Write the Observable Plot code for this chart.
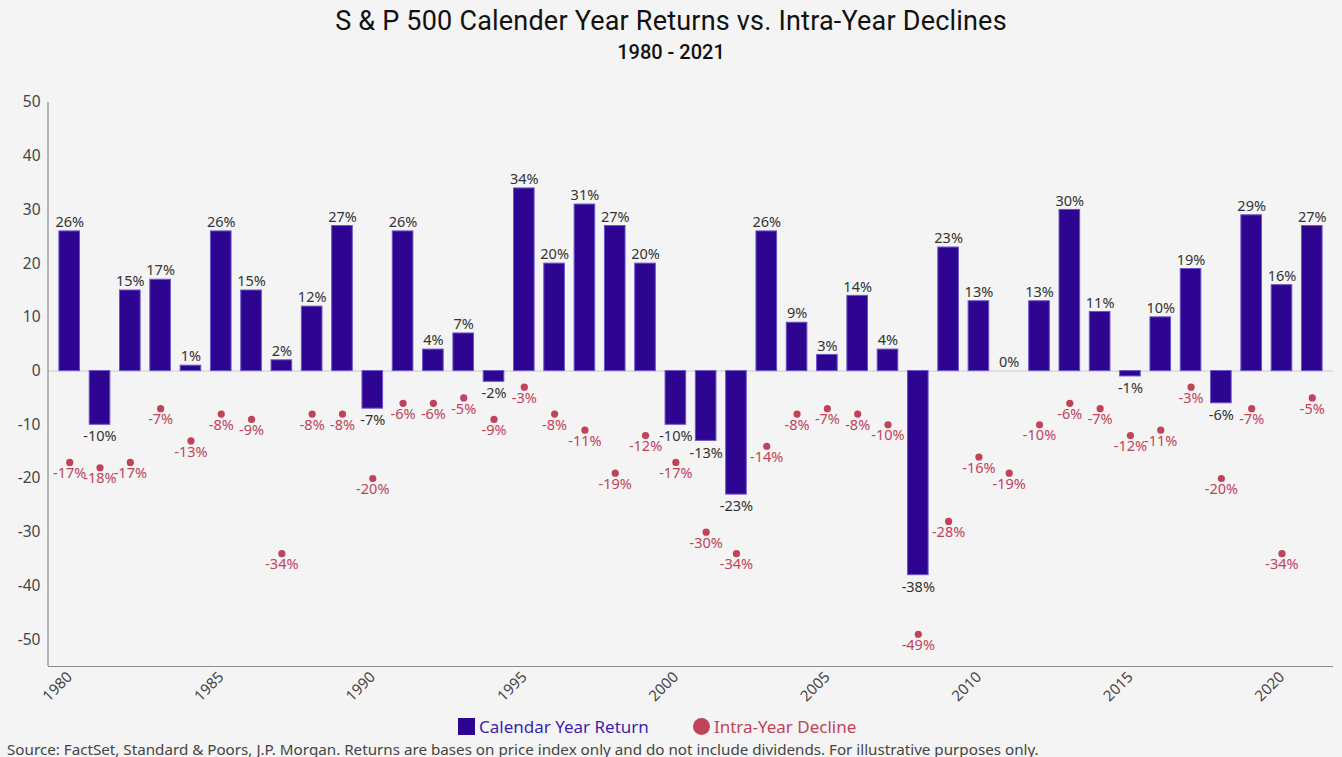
<!DOCTYPE html>
<html>
<head>
<meta charset="utf-8">
<script src="https://cdn.jsdelivr.net/npm/d3@7"></script>
<script src="https://cdn.jsdelivr.net/npm/@observablehq/plot@0.6"></script>
<style>
  html, body { margin: 0; padding: 0; background: #f4f4f4; }
  body { width: 1342px; height: 757px; overflow: hidden; font-family: "Noto Sans", Lato, sans-serif; position: relative; }
  #title { position: absolute; left: 0; width: 1342px; top: 5px; text-align: center; font-family: Roboto, "Noto Sans", sans-serif; font-size: 27px; color: #111; letter-spacing: 0.2px; }
  #subtitle { position: absolute; left: 0; width: 1342px; top: 40px; text-align: center; font-family: Roboto, "Noto Sans", sans-serif; font-size: 20px; font-weight: 500; color: #111; }
  #chart { position: absolute; left: 0; top: 70px; }
  #legend { position: absolute; left: 458px; top: 715px; display: flex; gap: 44px; font-size: 17px; }
  #legend span.item { display: inline-flex; align-items: center; }
  #legend .sw { display: inline-block; width: 17px; height: 17px; margin-right: 4px; }
  #caption { position: absolute; left: 7px; top: 739px; font-size: 15.2px; color: #444; white-space: nowrap; }
</style>
</head>
<body>
<div id="title">S &amp; P 500 Calender Year Returns vs. Intra-Year Declines</div>
<div id="subtitle">1980 - 2021</div>
<div id="chart"></div>
<div id="legend"></div>
<div id="caption">Source: FactSet, Standard &amp; Poors, J.P. Morgan. Returns are bases on price index only and do not include dividends. For illustrative purposes only.</div>
<script>
// Calendar years shown on the x axis
const years = d3.range(1980, 2022);

// S&P 500 calendar-year price return (%)
const calendarReturns = [26, -10, 15, 17, 1, 26, 15, 2, 12, 27,
  -7, 26, 4, 7, -2, 34, 20, 31, 27, 20,
  -10, -13, -23, 26, 9, 3, 14, 4, -38, 23,
  13, 0, 13, 30, 11, -1, 10, 19, -6, 29,
  16, 27];

// Largest intra-year decline (%)
const intraYearDeclines = [-17, -18, -17, -7, -13, -8, -9, -34, -8, -8,
  -20, -6, -6, -5, -9, -3, -8, -11, -19, -12,
  -17, -30, -34, -14, -8, -7, -8, -10, -49, -28,
  -16, -19, -10, -6, -7, -12, -11, -3, -20, -7,
  -34, -5];

// Labelled years on the x axis
const yearTicks = [1980, 1985, 1990, 1995, 2000, 2005, 2010, 2015, 2020];
// Y axis ticks
const yTicks = [-50, -40, -30, -20, -10, 0, 10, 20, 30, 40, 50];

const seriesNames = ["Calendar Year Return", "Intra-Year Decline"];
const barColor = "#2e0591";
const barEdge = "#6a55c8";
const dotColor = "#c0435a";

const rows = years.map((year, i) => ({
  year,
  ret: calendarReturns[i],
  decline: intraYearDeclines[i]
}));

const plot = Plot.plot({
  width: 1342,
  height: 646,
  marginTop: 32,
  marginLeft: 48,
  marginRight: 9,
  marginBottom: 50,
  style: { background: "transparent", fontFamily: "'Noto Sans', Lato, sans-serif", overflow: "visible" },
  x: { type: "band", domain: years, paddingInner: 0.32, paddingOuter: 0.36, round: false, label: null },
  y: { domain: [-55, 50], label: null },
  marks: [
    Plot.ruleY([0], { stroke: "#d4d4d4", strokeWidth: 1.2 }),
    Plot.barY(rows, { x: "year", y: "ret", fill: barColor, stroke: barEdge, strokeWidth: 1 }),
    Plot.text(rows, {
      x: "year", y: "ret",
      text: d => `${d.ret}%`,
      fill: "#333", fontSize: 14.5
    }),
    Plot.dot(rows, { x: "year", y: "decline", r: 3.6, fill: dotColor, stroke: "none" }),
    Plot.text(rows, {
      x: "year", y: "decline",
      text: d => `${d.decline}%`,
      dy: 11, fill: dotColor, fontSize: 14.5
    }),
    Plot.axisY({ ticks: yTicks, tickSize: 0, tickPadding: 8, fontSize: 15.5, color: "#444", label: null, tickFormat: d => String(d) }),
    Plot.axisX({ ticks: yearTicks, tickSize: 0, tickPadding: 8, tickRotate: -45, fontSize: 15, color: "#444", label: null, tickFormat: d => String(d) }),
    Plot.ruleY([-55], { stroke: "#8c8c8c", strokeWidth: 1.2 })
  ]
});

// Return labels sit above positive bars and below negative ones;
// the left axis line spans the y scale's extent.
const svg = d3.select(plot);
const yScale = plot.scale("y");
const textGroups = svg.selectAll("g[aria-label='text']").nodes();
if (textGroups.length) {
  d3.select(textGroups[0]).selectAll("text").each(function(_, i) {
    const v = calendarReturns[i];
    d3.select(this).attr("dy", v < 0 ? 12 : -9);
  });
}
const yTop = yScale.apply(50);
const yBottom = yScale.apply(-55);
svg.append("line")
  .attr("x1", 48).attr("x2", 48)
  .attr("y1", yTop).attr("y2", yBottom)
  .attr("stroke", "#8c8c8c").attr("stroke-width", 1.2);

document.getElementById("chart").appendChild(plot);

// Legend below the plot
const legend = d3.select("#legend");
legend.append("span").attr("class", "item").style("color", "#3a1fb0")
  .html(`<span class="sw" style="background:${barColor}"></span>${seriesNames[0]}`);
legend.append("span").attr("class", "item").style("color", dotColor)
  .html(`<span class="sw" style="background:${dotColor};border-radius:50%"></span>${seriesNames[1]}`);
</script>
</body>
</html>
